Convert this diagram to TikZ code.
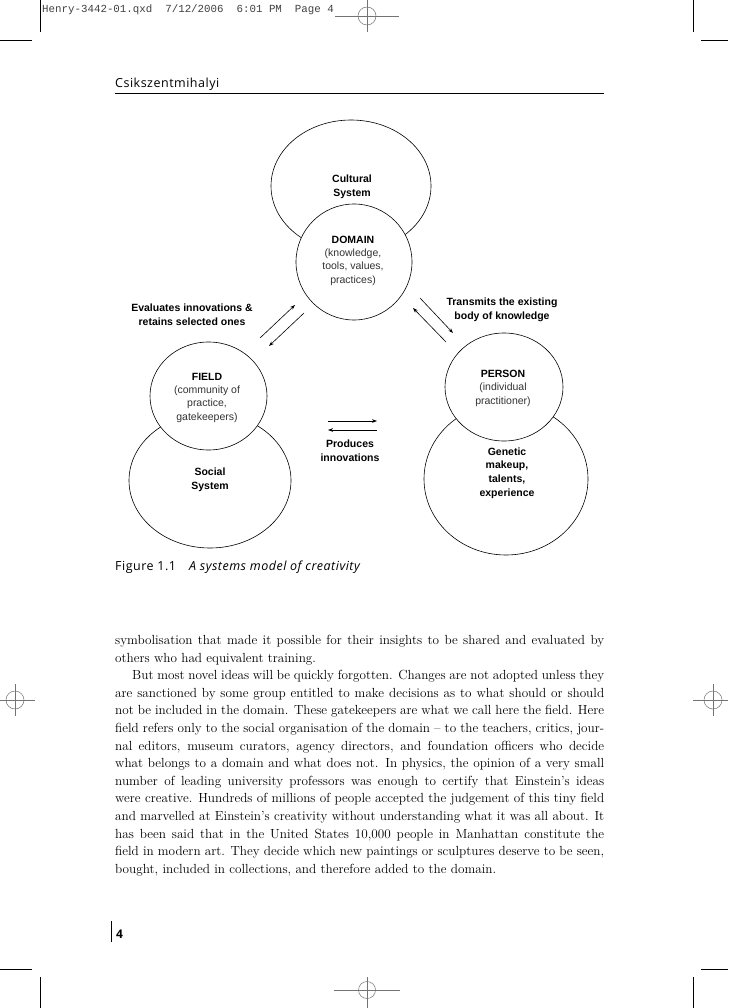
\documentclass[tikz,border=0pt]{standalone}
\usepackage{fontspec}
\usetikzlibrary{arrows.meta}
\newfontfamily\diagf{Liberation Sans}
\newfontfamily\capf[LetterSpace=4]{Open Sans}
\newfontfamily\pagef{Open Sans}
\newfontfamily\monof{Liberation Mono}
\tikzset{
  lbl/.style={font=\diagf\bfseries\fontsize{10.5}{13.6}\selectfont, align=center, inner sep=0pt},
  sub/.style={font=\diagf\fontsize{10.5}{13.4}\selectfont, align=center, inner sep=0pt, text=black!80},
  body/.style={font=\fontsize{13.2}{17.6}\selectfont, inner sep=0pt, anchor=base west},
  shapeline/.style={line width=0.6pt, draw=black},
  flow/.style={line width=0.6pt, -{Stealth[length=5pt,width=3.6pt]}},
  crop/.style={line width=0.8pt, black},
  reg/.style={line width=0.5pt, black!55}
}
\begin{document}
\begin{tikzpicture}[x=1pt,y=-1pt]
\useasboundingbox[fill=white] (0,0) rectangle (728,1008);

% ---- crop and registration marks
\draw[crop] (40.5,0) -- (40.5,32);
\draw[crop] (0,40) -- (32,40);
\draw[crop] (693.5,0) -- (693.5,32);
\draw[crop] (701,40) -- (728,40);
\draw[crop] (0,969) -- (32,969);
\draw[crop] (40.5,977) -- (40.5,1008);
\draw[crop] (701,969) -- (728,969);
\draw[crop] (693.5,977) -- (693.5,1008);
\draw[reg] (367,16) circle [radius=9];
\draw[reg] (335,16) -- (399,16);
\draw[reg] (367,0) -- (367,32);
\draw[reg] (367,990) circle [radius=8.5];
\draw[reg] (334,990) -- (400,990);
\draw[reg] (367,977) -- (367,1008);
\draw[reg] (15,700) circle [radius=9];
\draw[reg] (0,700) -- (35,700);
\draw[reg] (15,684) -- (15,716);
\draw[reg] (713,700) circle [radius=9];
\draw[reg] (693,700) -- (728,700);
\draw[reg] (713,684) -- (713,716);

\node[font=\monof\fontsize{10.8}{12}\selectfont, text=black!75, anchor=base west, inner sep=0pt] (slug) at (42,12.5) {Henry-3442-01.qxd\ \ 7/12/2006\ \ 6:01 PM\ \ Page 4};

% ---- running head
\node[font=\capf\fontsize{12.5}{14}\selectfont, anchor=base west, inner sep=0pt] (head) at (115,88) {Csikszentmihalyi};
\draw[line width=0.8pt] (115,93) -- (604,93);

% ---- diagram shapes
\draw[shapeline] (351,186) ellipse [x radius=80, y radius=66];
\draw[shapeline, fill=white] (354,262) circle [radius=58];
\draw[shapeline] (210,480.5) ellipse [x radius=81, y radius=67.5];
\draw[shapeline, fill=white] (208.5,396) ellipse [x radius=58.5, y radius=54];
\draw[shapeline] (506,479) ellipse [x radius=82, y radius=76];
\draw[shapeline, fill=white] (504,387) ellipse [x radius=59, y radius=54];

% ---- diagram labels
\node[lbl] (cult) at (352,186.5) {Cultural\\System};
\node[lbl, anchor=base] (dom) at (353,243.5) {DOMAIN};
\node[sub, anchor=north] (domt) at (353,248.5) {(knowledge,\\tools, values,\\practices)};
\node[lbl] (evalt) at (192,315) {Evaluates innovations \&\\retains selected ones};
\node[lbl, anchor=base] (fld) at (207,380.5) {FIELD};
\node[sub, anchor=north] (fldt) at (207,385.5) {(community of\\practice,\\gatekeepers)};
\node[lbl] (soc) at (210,479.5) {Social\\System};
\node[lbl] (trans) at (502,310) {Transmits the existing\\body of knowledge};
\node[lbl, anchor=base] (pers) at (503,377.5) {PERSON};
\node[sub, anchor=north] (perst) at (503,383) {(individual\\practitioner)};
\node[lbl] (gen) at (507,473) {Genetic\\makeup,\\talents,\\experience};
\node[lbl] (prod) at (350,451) {Produces\\innovations};

% ---- arrows
\coordinate (p1) at (328,421); \coordinate (p2) at (377,421);
\coordinate (p3) at (377,430); \coordinate (p4) at (328,430);
\coordinate (e1) at (260,338); \coordinate (e2) at (295,305);
\coordinate (e3) at (304,313); \coordinate (e4) at (269,346);
\coordinate (t1) at (420,298); \coordinate (t2) at (453,333);
\coordinate (t3) at (446,342); \coordinate (t4) at (413,308);
\draw[flow] (p1) -- (p2);
\draw[flow] (p3) -- (p4);
\draw[flow] (e1) -- (e2);
\draw[flow] (e3) -- (e4);
\draw[flow] (t1) -- (t2);
\draw[flow] (t3) -- (t4);

% ---- caption
\node[font=\capf\fontsize{12.5}{14}\selectfont, anchor=base west, inner sep=0pt] (figno) at (115,570) {Figure 1.1};
\node[font=\capf\itshape\fontsize{12.5}{14}\selectfont, anchor=base west, inner sep=0pt] (figt) at (189,570) {A systems model of creativity};

% ---- body text
\node[body] (l1) at (115,644.5) {\makebox[489pt][s]{symbolisation that made it possible for their insights to be shared and evaluated by}};
\node[body] (l2) at (115,662.1) {others who had equivalent training.};
\node[body] (l3) at (132,679.7) {\makebox[472pt][s]{But most novel ideas will be quickly forgotten. Changes are not adopted unless they}};
\node[body] (l4) at (115,697.3) {\makebox[489pt][s]{are sanctioned by some group entitled to make decisions as to what should or should}};
\node[body] (l5) at (115,714.9) {\makebox[489pt][s]{not be included in the domain. These gatekeepers are what we call here the field. Here}};
\node[body] (l6) at (115,732.5) {\makebox[489pt][s]{field refers only to the social organisation of the domain -- to the teachers, critics, jour-}};
\node[body] (l7) at (115,750.1) {\makebox[489pt][s]{nal editors, museum curators, agency directors, and foundation officers who decide}};
\node[body] (l8) at (115,767.7) {\makebox[489pt][s]{what belongs to a domain and what does not. In physics, the opinion of a very small}};
\node[body] (l9) at (115,785.3) {\makebox[489pt][s]{number of leading university professors was enough to certify that Einstein’s ideas}};
\node[body] (l10) at (115,802.9) {\makebox[489pt][s]{were creative. Hundreds of millions of people accepted the judgement of this tiny field}};
\node[body] (l11) at (115,820.5) {\makebox[489pt][s]{and marvelled at Einstein’s creativity without understanding what it was all about. It}};
\node[body] (l12) at (115,838.1) {\makebox[489pt][s]{has been said that in the United States 10,000 people in Manhattan constitute the}};
\node[body] (l13) at (115,855.7) {\makebox[489pt][s]{field in modern art. They decide which new paintings or sculptures deserve to be seen,}};
\node[body] (l14) at (115,873.3) {bought, included in collections, and therefore added to the domain.};

% ---- folio
\draw[line width=1pt] (111,921) -- (111,942);
\node[font=\pagef\bfseries\fontsize{12}{14}\selectfont, anchor=base west, inner sep=0pt] (folio) at (116,938) {4};
\end{tikzpicture}
\end{document}
